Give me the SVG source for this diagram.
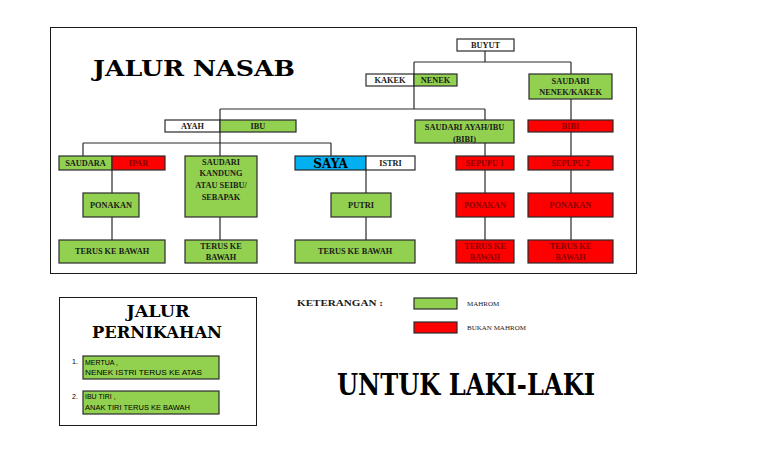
<svg xmlns="http://www.w3.org/2000/svg" width="768" height="466" viewBox="0 0 768 466">
<style>
.g{fill:#92D050;stroke:#2b2b2b;stroke-width:1.2}
.r{fill:#FF0000;stroke:#2b2b2b;stroke-width:1.2}
.w{fill:#FFFFFF;stroke:#2b2b2b;stroke-width:1.2}
.b{fill:#00B0F0;stroke:#2b2b2b;stroke-width:1.2}
.frame{fill:#FFFFFF;stroke:#1a1a1a;stroke-width:1}
.t{font-family:"Liberation Serif","Times New Roman",serif;font-weight:bold;font-size:8.3px;fill:#1a1a1a;text-anchor:middle}
.tr{fill:#8a0000}
.big{font-family:"DejaVu Serif","Liberation Serif",serif;font-weight:bold;fill:#000}
.s{font-family:"Liberation Sans",Arial,sans-serif;font-size:7px;fill:#000}
.ln{fill:none;stroke:#2b2b2b;stroke-width:1.2}
</style>
<rect x="0" y="0" width="768" height="466" fill="#FFFFFF"/>
<rect class="frame" x="50.5" y="27.5" width="586" height="246"/>
<rect class="frame" x="59.5" y="297.5" width="197" height="128"/>

<g id="connectors" class="ln">
<path d="M485 51V62M414 62H571M414 62V109M220 109H485M485 109V120"/>
<path d="M571 62V74M571 99V120M571 132V156M571 170V193M571 217V240"/>
<path d="M220 109V120M220 132V156M83 143H331M83 143V156M331 143V156"/>
<path d="M112 170V193M112 217V240M220 217V240"/>
<path d="M366 170V193M366 217V240"/>
<path d="M485 143V156M485 170V193M485 217V240"/>
</g>

<text class="big" x="93" y="76" font-size="23" textLength="202" lengthAdjust="spacingAndGlyphs">JALUR NASAB</text>

<g id="buyut"><rect class="w" x="457" y="39" width="57" height="12"/><text class="t" x="485.5" y="48">BUYUT</text></g>
<g id="kakek"><rect class="w" x="366" y="74" width="48" height="12"/><text class="t" x="390" y="83">KAKEK</text></g>
<g id="nenek"><rect class="g" x="414" y="74" width="43" height="12"/><text class="t" x="435.5" y="83">NENEK</text></g>
<g id="saudari-nenek-kakek"><rect class="g" x="529" y="74" width="83" height="25"/><text class="t" x="570.5" y="84">SAUDARI</text><text class="t" x="570.5" y="95">NENEK/KAKEK</text></g>

<g id="ayah"><rect class="w" x="165" y="120" width="55" height="12"/><text class="t" x="192.5" y="129">AYAH</text></g>
<g id="ibu"><rect class="g" x="220" y="120" width="76" height="12"/><text class="t" x="258" y="129">IBU</text></g>
<g id="saudari-ayah-ibu"><rect class="g" x="415" y="120" width="99" height="23"/><text class="t" x="464.5" y="130">SAUDARI AYAH/IBU</text><text class="t" x="464.5" y="142">(BIBI)</text></g>
<g id="bibi"><rect class="r" x="528" y="120" width="85" height="12"/><text class="t tr" x="570.5" y="129">BIBI</text></g>

<g id="saudara"><rect class="g" x="59" y="156" width="53" height="14"/><text class="t" x="85.5" y="166">SAUDARA</text></g>
<g id="ipar"><rect class="r" x="112" y="156" width="53" height="14"/><text class="t tr" x="138.5" y="166">IPAR</text></g>
<g id="saudari-kandung"><rect class="g" x="185" y="156" width="72" height="61"/><text class="t" x="221" y="165">SAUDARI</text><text class="t" x="221" y="176">KANDUNG</text><text class="t" x="221" y="188">ATAU SEIBU/</text><text class="t" x="221" y="200">SEBAPAK</text></g>
<g id="saya"><rect class="b" x="295" y="156" width="71" height="14"/><text class="big" x="330.5" y="167.5" font-size="12" text-anchor="middle" fill="#0a0a30">SAYA</text></g>
<g id="istri"><rect class="w" x="366" y="156" width="49" height="14"/><text class="t" x="390.5" y="166">ISTRI</text></g>
<g id="sepupu1"><rect class="r" x="456" y="156" width="58" height="14"/><text class="t tr" x="485" y="166">SEPUPU 1</text></g>
<g id="sepupu2"><rect class="r" x="528" y="156" width="85" height="14"/><text class="t tr" x="570.5" y="166">SEPUPU 2</text></g>

<g id="ponakan1"><rect class="g" x="83" y="193" width="56" height="24"/><text class="t" x="111" y="208">PONAKAN</text></g>
<g id="putri"><rect class="g" x="331" y="193" width="60" height="24"/><text class="t" x="361" y="208">PUTRI</text></g>
<g id="ponakan2"><rect class="r" x="456" y="193" width="58" height="24"/><text class="t tr" x="485" y="208">PONAKAN</text></g>
<g id="ponakan3"><rect class="r" x="528" y="193" width="85" height="24"/><text class="t tr" x="570.5" y="208">PONAKAN</text></g>

<g id="terus1"><rect class="g" x="59" y="240" width="106" height="23"/><text class="t" x="112" y="254">TERUS KE BAWAH</text></g>
<g id="terus2"><rect class="g" x="185" y="240" width="72" height="23"/><text class="t" x="221" y="249">TERUS KE</text><text class="t" x="221" y="260">BAWAH</text></g>
<g id="terus3"><rect class="g" x="295" y="240" width="120" height="23"/><text class="t" x="355" y="254">TERUS KE BAWAH</text></g>
<g id="terus4"><rect class="r" x="456" y="240" width="58" height="23"/><text class="t tr" x="485" y="249">TERUS KE</text><text class="t tr" x="485" y="260">BAWAH</text></g>
<g id="terus5"><rect class="r" x="528" y="240" width="85" height="23"/><text class="t tr" x="570.5" y="249">TERUS KE</text><text class="t tr" x="570.5" y="260">BAWAH</text></g>

<g id="jalur-pernikahan">
<text class="big" x="158" y="317" font-size="17" text-anchor="middle" textLength="63" lengthAdjust="spacingAndGlyphs">JALUR</text>
<text class="big" x="157" y="338" font-size="17" text-anchor="middle" textLength="130" lengthAdjust="spacingAndGlyphs">PERNIKAHAN</text>
<text class="s" x="72" y="364">1.</text>
<rect class="g" x="83" y="356" width="136" height="23"/>
<text class="s" x="85" y="365">MERTUA ,</text>
<text class="s" x="85" y="375" textLength="117" lengthAdjust="spacingAndGlyphs">NENEK ISTRI TERUS KE ATAS</text>
<text class="s" x="72" y="399">2.</text>
<rect class="g" x="83" y="391" width="136" height="23"/>
<text class="s" x="85" y="399">IBU TIRI ,</text>
<text class="s" x="85" y="410" textLength="105" lengthAdjust="spacingAndGlyphs">ANAK TIRI TERUS KE BAWAH</text>
</g>

<g id="legend">
<text class="t" x="297" y="306" style="font-size:9px;text-anchor:start" textLength="86" lengthAdjust="spacingAndGlyphs">KETERANGAN :</text>
<rect class="g" x="414" y="298" width="43" height="11"/>
<text class="t" x="467" y="306" style="font-size:7px;text-anchor:start;font-weight:normal">MAHROM</text>
<rect class="r" x="414" y="322" width="43" height="11"/>
<text class="t" x="467" y="330" style="font-size:7px;text-anchor:start;font-weight:normal">BUKAN MAHROM</text>
</g>

<text class="big" x="337" y="395" font-size="30" textLength="258" lengthAdjust="spacingAndGlyphs">UNTUK LAKI-LAKI</text>
</svg>
